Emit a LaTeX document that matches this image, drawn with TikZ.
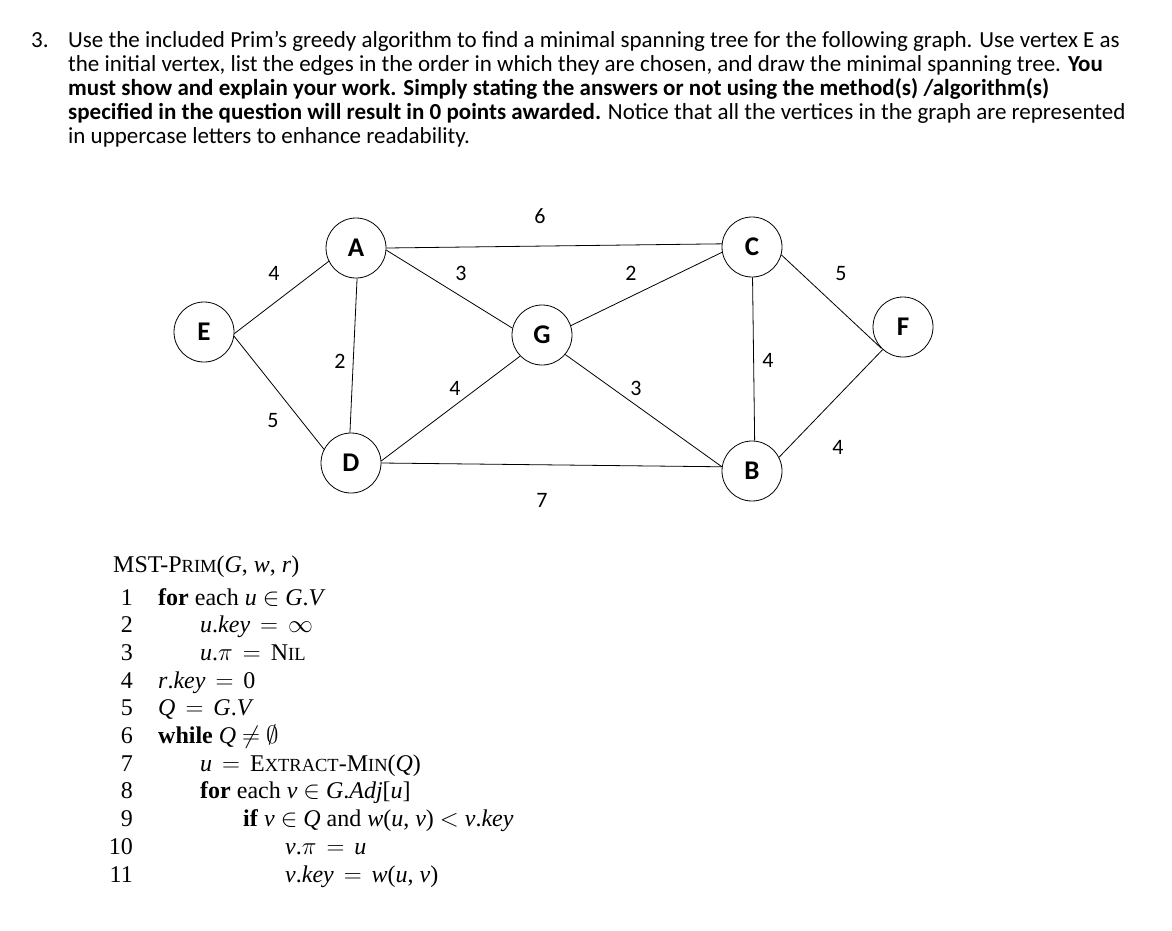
\documentclass[tikz,border=0pt]{standalone}
\usepackage{fontspec}
\setmainfont{Carlito}
\newfontfamily\algfont{Liberation Serif}
\newcommand{\algsz}{\algfont\fontsize{24}{24}\selectfont}
\newcommand{\smc}[1]{{\fontsize{18.5}{18.5}\selectfont #1}}
\newcommand{\eq}{\ \,$=$\ \,}
\begin{document}
\begin{tikzpicture}[x=1pt,y=-1pt,
  vertex/.style={draw,line width=0.8pt,circle,minimum size=60pt,inner sep=0pt,font=\fontsize{27}{27}\selectfont\bfseries},
  edge/.style={line width=0.8pt},
  wt/.style={font=\fontsize{22}{22}\selectfont,inner sep=0pt},
  hdr/.style={anchor=base west,inner sep=0pt,font=\fontsize{23}{24}\selectfont},
  algl/.style={anchor=base west,inner sep=0pt,font=\algsz},
  algn/.style={anchor=base east,inner sep=0pt,font=\algsz}]
\useasboundingbox (0,0) rectangle (1172,930);
\fill[white] (0,0) rectangle (1172,930);
% header
\node[hdr] (n3) at (31,47.5) {3.};
\node[hdr] (h1) at (68,47.5) {Use the included Prim’s greedy algorithm to find a minimal spanning tree for the following graph. Use vertex E as};
\node[hdr] (h2) at (68,71.5) {the initial vertex, list the edges in the order in which they are chosen, and draw the minimal spanning tree. \textbf{You}};
\node[hdr] (h3) at (68,95.5) {\textbf{must show and explain your work. Simply stating the answers or not using the method(s) /algorithm(s)}};
\node[hdr] (h4) at (68,119.5) {\textbf{specified in the question will result in 0 points awarded.} Notice that all the vertices in the graph are represented};
\node[hdr] (h5) at (68,143.5) {in uppercase letters to enhance readability.};
% graph
\node[vertex] (E) at (204,332) {E};
\node[vertex] (A) at (356,248) {A};
\node[vertex] (D) at (351,463) {D};
\node[vertex] (G) at (542,335) {G};
\node[vertex] (C) at (752,247) {C};
\node[vertex] (B) at (752,471) {B};
\node[vertex] (F) at (903,327) {F};
\draw[edge] (E.-3) -- (A.206);
\draw[edge] (E.-8) -- (D.153);
\draw[edge] (A.-88) -- (D.92);
\draw[edge] (A.-4) -- (G.167);
\draw[edge] (A.0) -- (C.174);
\draw[edge] (G.18) -- (C.190);
\draw[edge] (D.4) -- (G.224);
\draw[edge] (G.-40) -- (B.172);
\draw[edge] (D.0) -- (B.172);
\draw[edge] (C.-89) -- (B.85);
\draw[edge] (C.-15) -- (F.224);
\draw[edge] (B.27) -- (F.228);
\node[wt] (wAC) at (540,216) {6};
\node[wt] (wEA) at (274,273) {4};
\node[wt] (wAG) at (461,273) {3};
\node[wt] (wGC) at (631,273) {2};
\node[wt] (wCF) at (841,274) {5};
\node[wt] (wAD) at (340,361) {2};
\node[wt] (wCB) at (768,360) {4};
\node[wt] (wDG) at (455,388) {4};
\node[wt] (wGB) at (636,388) {3};
\node[wt] (wED) at (273,421) {5};
\node[wt] (wBF) at (838,447) {4};
\node[wt] (wDB) at (542,500) {7};
% algorithm
\node[algl] (t0) at (113,572) {MST-P\smc{RIM}(\textit{G}, \textit{w}, \textit{r})};
\node[algn] (l1) at (133,605.0) {1};
\node[algn] (l2) at (133,632.7) {2};
\node[algn] (l3) at (133,660.4) {3};
\node[algn] (l4) at (133,688.1) {4};
\node[algn] (l5) at (133,715.8) {5};
\node[algn] (l6) at (133,743.5) {6};
\node[algn] (l7) at (133,771.2) {7};
\node[algn] (l8) at (133,798.9) {8};
\node[algn] (l9) at (133,826.6) {9};
\node[algn] (l10) at (133,854.3) {10};
\node[algn] (l11) at (133,882.0) {11};
\node[algl] (c1) at (158,605.0) {\textbf{for} each \textit{u} $\in$ \textit{G}.\textit{V}};
\node[algl] (c2) at (200,632.7) {\textit{u}.\textit{key}\eq$\infty$};
\node[algl] (c3) at (200,660.4) {\textit{u}.$\pi$\eq N\smc{IL}};
\node[algl] (c4) at (158,688.1) {\textit{r}.\textit{key}\eq 0};
\node[algl] (c5) at (158,715.8) {\textit{Q}\eq\textit{G}.\textit{V}};
\node[algl] (c6) at (158,743.5) {\textbf{while} \textit{Q} $\neq$ $\emptyset$};
\node[algl] (c7) at (200,771.2) {\textit{u}\eq E\smc{XTRACT}-M\smc{IN}(\textit{Q})};
\node[algl] (c8) at (200,798.9) {\textbf{for} each \textit{v} $\in$ \textit{G}.\textit{Adj}[\textit{u}]};
\node[algl] (c9) at (243,826.6) {\textbf{if} \textit{v} $\in$ \textit{Q} and \textit{w}(\textit{u}, \textit{v}) $<$ \textit{v}.\textit{key}};
\node[algl] (c10) at (285,854.3) {\textit{v}.$\pi$\eq\textit{u}};
\node[algl] (c11) at (285,882.0) {\textit{v}.\textit{key}\eq\textit{w}(\textit{u}, \textit{v})};
\end{tikzpicture}
\end{document}
